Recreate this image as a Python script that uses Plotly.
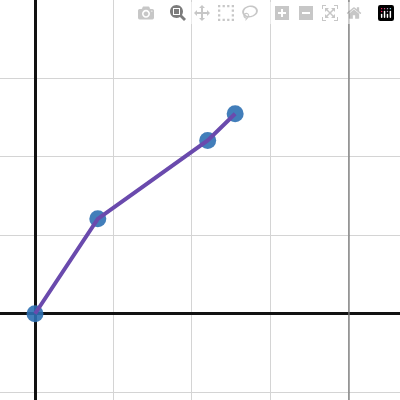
import plotly.graph_objects as go

# points (grid step = 1)
xs = [0, 0.8, 2.2, 2.55]
ys = [0, 1.21, 2.21, 2.55]

fig = go.Figure()
fig.add_trace(go.Scatter(x=xs, y=ys, mode="markers",
                         marker=dict(size=17, color="rgba(45,112,179,0.9)"),
                         hoverinfo="skip"))
fig.add_trace(go.Scatter(x=xs, y=ys, mode="lines",
                         line=dict(color="#6a4aad", width=4),
                         hoverinfo="skip"))

fig.add_vline(x=4, line=dict(color="#777777", width=1.3))

axis = dict(showgrid=True, gridcolor="#d4d4d4", gridwidth=1, dtick=1,
            zeroline=True, zerolinecolor="#111111", zerolinewidth=2.5,
            showticklabels=False, ticks="", showline=False)
fig.update_layout(
    width=400, height=400, margin=dict(l=0, r=0, t=0, b=0),
    paper_bgcolor="white", plot_bgcolor="white", showlegend=False,
    xaxis=dict(axis, range=[-0.446, 4.65]),
    yaxis=dict(axis, range=[-1.1, 4.0]),
)
fig.write_html("out.html", post_script="document.body.style.margin='0';")
